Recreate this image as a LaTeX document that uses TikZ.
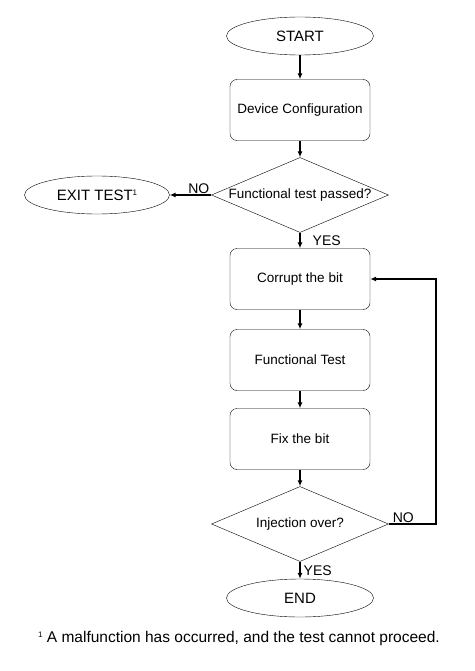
\documentclass[tikz,border=0pt]{standalone}
\usepackage{fontspec}
\setmainfont{Liberation Sans}
\usetikzlibrary{shapes.geometric,arrows.meta}
\newcommand{\fnmark}{\raisebox{0.55ex}{\fontsize{8}{8}\selectfont 1}}

\begin{document}
\begin{tikzpicture}[x=1pt,y=-1pt,
	term/.style={draw,ellipse,minimum width=147pt,minimum height=38pt,inner sep=0pt,font=\fontsize{15}{18}\selectfont},
	task/.style={draw,rounded corners=7pt,minimum width=140pt,minimum height=61pt,inner sep=0pt,font=\fontsize{13.5}{16}\selectfont},
	test/.style={draw,diamond,aspect=2.36,minimum width=177pt,minimum height=75pt,inner sep=0pt,font=\fontsize{13.5}{16}\selectfont},
	flow/.style={line width=1.4pt,-{Latex[length=6pt,width=5pt]}},
	lbl/.style={font=\fontsize{14}{16}\selectfont,inner sep=1pt}]
	\useasboundingbox (0,0) rectangle (474,671);
	\node[term] (start) at (300,36) {START};
	\node[task] (config) at (300,110) {Device Configuration};
	\node[test] (passed) at (300,195) {Functional test passed?};
	\node[term,minimum width=145pt] (exit) at (97,195) {EXIT TEST\fnmark};
	\node[task] (corrupt) at (300,279) {Corrupt the bit};
	\node[task] (functest) at (300,360) {Functional Test};
	\node[task] (fix) at (300,439) {Fix the bit};
	\node[test] (over) at (300,524) {Injection over?};
	\node[term] (end) at (300,598) {END};
	\coordinate (loop) at (436,524);
	\draw[flow] (start) -- (config);
	\draw[flow] (config) -- (passed);
	\draw[flow] (passed.west) -- node[lbl,pos=0.3,anchor=south] {NO} (exit.east);
	\draw[flow] (passed.south) -- node[lbl,anchor=west,xshift=11pt] {YES} (corrupt.north);
	\draw[flow] (corrupt) -- (functest);
	\draw[flow] (functest) -- (fix);
	\draw[flow] (fix) -- (over);
	\draw[flow] (over.south) -- node[lbl,anchor=west,xshift=2pt] {YES} (end.north);
	\draw[flow] (over.east) -- node[lbl,pos=0.31,anchor=south] {NO} (loop) |- (corrupt.east);
	\node[font=\fontsize{15.5}{18}\selectfont] (note) at (239,638) {\fnmark\ A malfunction has occurred, and the test cannot proceed.};
\end{tikzpicture}
\end{document}
